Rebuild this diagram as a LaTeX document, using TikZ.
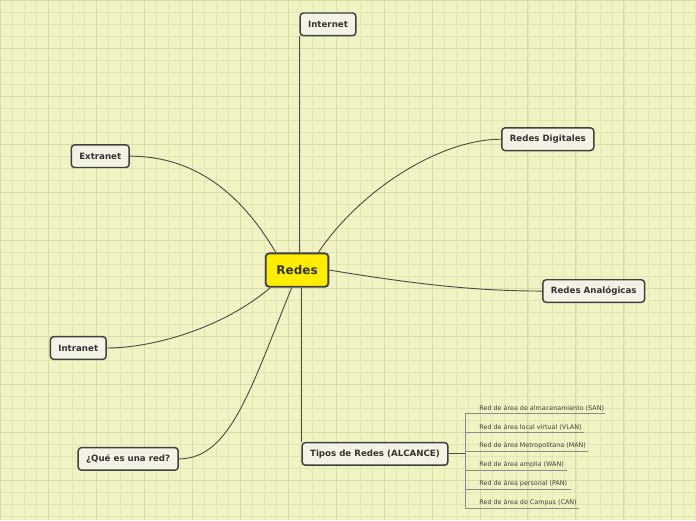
\documentclass[tikz,border=0pt]{standalone}
\usepackage{fontspec}
\setmainfont{DejaVu Sans}
\definecolor{bgc}{HTML}{F1F3C2}
\definecolor{gmin}{HTML}{E2E6B4}
\definecolor{gmaj}{HTML}{D8DCA8}
\definecolor{nfill}{HTML}{F3F2E4}
\begin{document}
\begin{tikzpicture}[x=0.75pt,y=-0.75pt,
 topic/.style={draw=black!75,line width=1.1pt,rounded corners=2.5pt,fill=nfill,font=\bfseries\fontsize{6.5}{8}\selectfont,inner xsep=6pt,minimum height=17pt,text=black!80},
 conn/.style={draw=black!70,line width=0.7pt},
 leaf/.style={font=\fontsize{4.8}{6}\selectfont,text=black!75,anchor=south west,inner sep=1pt}]
\fill[bgc] (0,0) rectangle (696,520);
\foreach \i in {0,12,...,696} \draw[gmin,line width=0.3pt] (\i,0) -- (\i,520);
\foreach \i in {0,12,...,520} \draw[gmin,line width=0.3pt] (0,\i) -- (696,\i);
\foreach \i in {0,48,...,696} \draw[gmaj,line width=0.5pt] (\i,0) -- (\i,520);
\foreach \i in {0,48,...,520} \draw[gmaj,line width=0.5pt] (0,\i) -- (696,\i);
\useasboundingbox (0,0) rectangle (696,520);
\node[topic,fill=yellow!95!orange,line width=1.4pt,font=\bfseries\fontsize{9}{11}\selectfont,minimum height=25pt,minimum width=47pt] (r) at (297,270) {Redes};
\node[topic] (inet) at (328,24) {Internet};
\node[topic] (ext) at (100,156) {Extranet};
\node[topic] (dig) at (548,139) {Redes Digitales};
\node[topic] (ana) at (594,291) {Redes Analógicas};
\node[topic] (intra) at (78,348) {Intranet};
\node[topic] (que) at (128,459) {¿Qué es una red?};
\node[topic] (tip) at (375,454) {Tipos de Redes (ALCANCE)};
\draw[conn] (r.north-|inet.west) -- (inet.west|-inet.south);
\draw[conn] ([xshift=-16]r.north) .. controls (245,200) and (200,156) .. (ext.east);
\draw[conn] ([xshift=16]r.north) .. controls (360,190) and (440,139) .. (dig.west);
\draw[conn] (r.east) .. controls (420,285) and (480,291) .. (ana.west);
\draw[conn] ([xshift=-20]r.south) .. controls (220,330) and (150,348) .. (intra.east);
\draw[conn] ([xshift=-4]r.south) .. controls (250,390) and (230,459) .. (que.east);
\draw[conn] (r.south-|tip.west) -- (tip.west|-tip.north);
\coordinate (b) at (465,454);
\draw[conn] (tip.east) -- (b);
\foreach \y/\t/\w in {413/Red de área de almacenamiento (SAN)/605,432/Red de área local virtual (VLAN)/584,451/Red de área Metropolitana (MAN)/588,470/Red de área amplia (WAN)/567,489/Red de área personal (PAN)/571,508/Red de área de Campus (CAN)/579}{
 \node[leaf] (l\y) at (478,\y) {\t};
 \draw[black!45,line width=0.5pt] (b) -- (465,\y) -- (\w,\y);}
\end{tikzpicture}
\end{document}
